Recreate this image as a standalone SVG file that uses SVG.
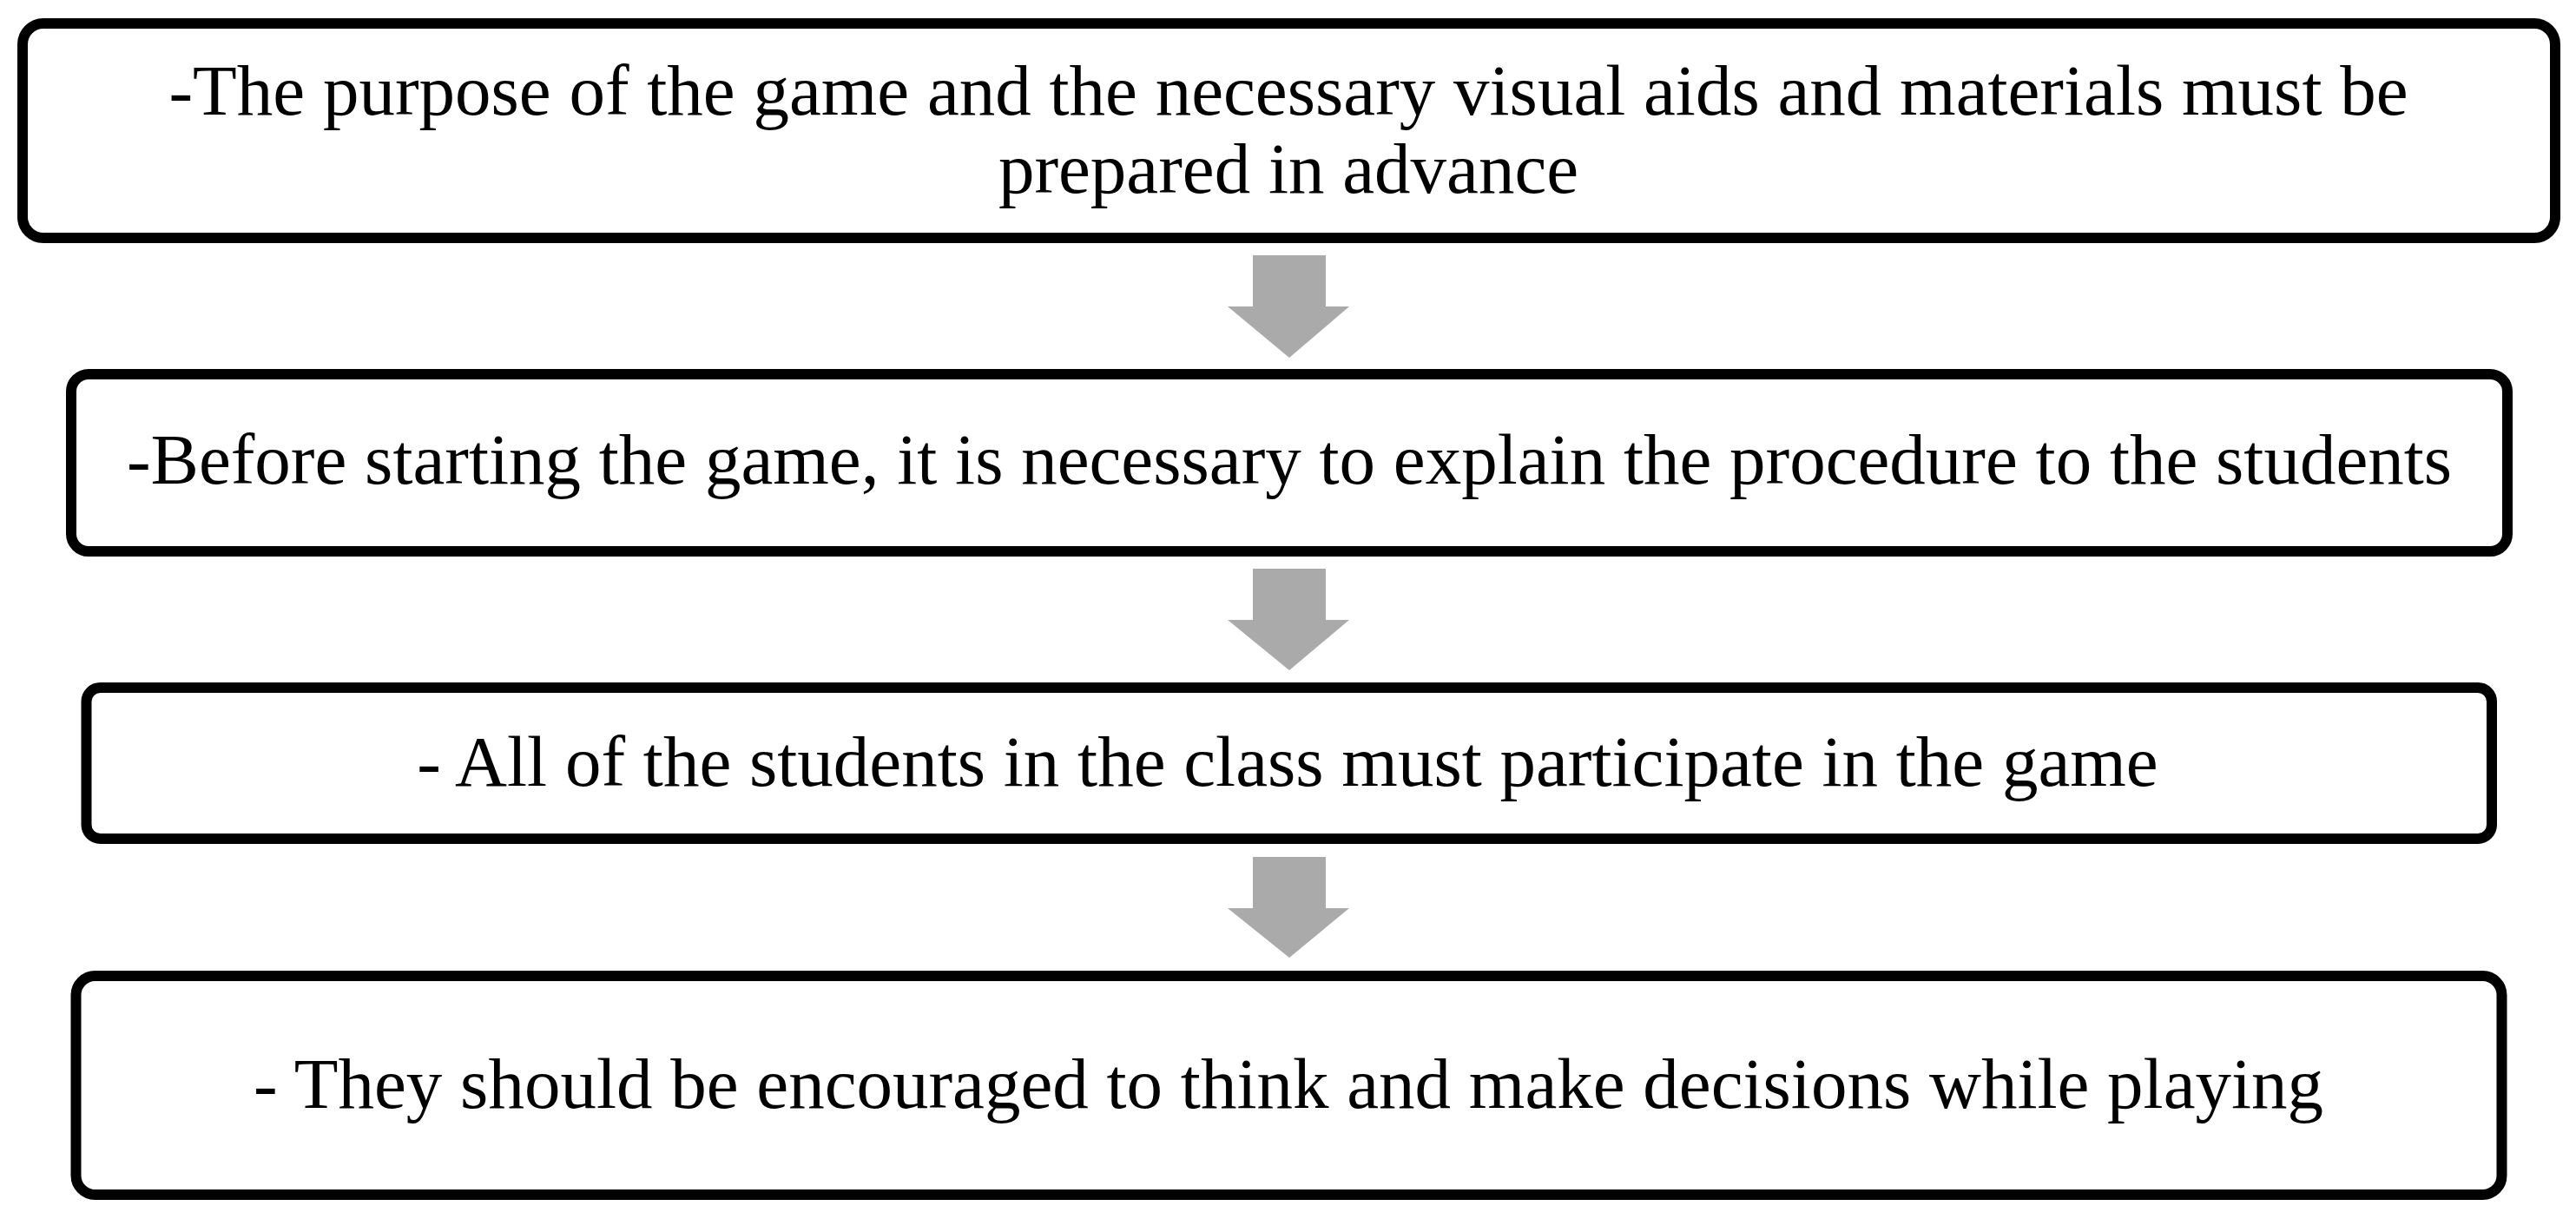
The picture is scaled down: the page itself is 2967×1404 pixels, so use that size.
<svg xmlns="http://www.w3.org/2000/svg" width="2967" height="1404" viewBox="0 0 2967 1404">
<style>
.box{fill:#ffffff;stroke:#000000;stroke-width:12}
.t{font-family:"Liberation Serif","Times New Roman",serif;font-size:83px;fill:#000000;text-anchor:middle}
.arr{fill:#aaaaaa;stroke:none}
</style>
<rect width="2967" height="1404" fill="#ffffff"/>
<g id="node1">
<rect class="box" x="26" y="27" width="2917" height="247" rx="24" ry="24"/>
<text class="t" x="1484" y="132">-The purpose of the game and the necessary visual aids and materials must be</text>
<text class="t" x="1484" y="222">prepared in advance</text>
</g>
<g id="node2">
<rect class="box" x="82" y="431" width="2806" height="204" rx="20" ry="20"/>
<text class="t" x="1485" y="557">-Before starting the game, it is necessary to explain the procedure to the students</text>
</g>
<g id="node3">
<rect class="box" x="99.5" y="792" width="2770.5" height="174" rx="16" ry="16"/>
<text class="t" x="1483" y="905">- All of the students in the class must participate in the game</text>
</g>
<g id="node4">
<rect class="box" x="87.5" y="1124" width="2794" height="252" rx="22" ry="22"/>
<text class="t" x="1484" y="1276">- They should be encouraged to think and make decisions while playing</text>
</g>
<g id="connectors">
<polygon class="arr" points="1443,294 1527,294 1527,353 1554,353 1485,412 1414,353 1443,353"/>
<polygon class="arr" points="1443,655 1527,655 1527,714 1554,714 1485,772 1414,714 1443,714"/>
<polygon class="arr" points="1443,987 1527,987 1527,1046 1554,1046 1485,1103 1414,1046 1443,1046"/>
</g>
</svg>
